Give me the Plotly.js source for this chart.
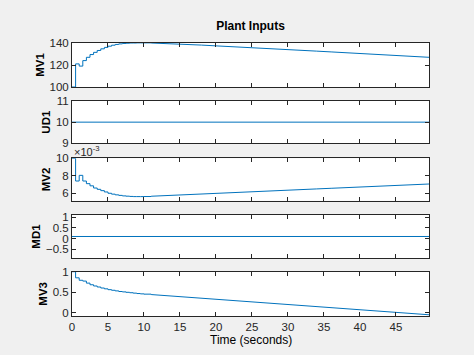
<!DOCTYPE html>
<html>
<head>
<meta charset="utf-8">
<script src="https://cdn.plot.ly/plotly-3.0.1.min.js"></script>
<style>html,body{margin:0;padding:0;background:#f0f0f0;}#chart{width:474px;height:355px;}</style>
</head>
<body>
<div id="chart"></div>
<script>
// time samples (seconds): stepped start, then smooth tail
const timeEarly = [0,0.5,1,1.5,2,2.5,3,3.5,4,4.5,5,5.5,6,6.5,7,7.5,8,8.5,9,9.5,10,11];
const timeLate = [11,12,14,16,18,20,22,24,26,28,30,32,34,36,38,40,42,44,46,48,49.6];
const mv1Early = [100,121,119,124,127,129.5,131.5,133.2,134.7,136,137.1,138,138.7,139.2,139.6,139.8,140,140,140.1,140.1,140.1,140];
const mv1Late = [140,139.8,139.3,138.7,138.1,137.4,136.8,136.1,135.4,134.7,134.0,133.3,132.6,131.9,131.2,130.4,129.7,129.0,128.3,127.6,127];
const mv2Early = [0.01,0.0074,0.00805,0.0074,0.0071,0.00685,0.0066,0.00645,0.0063,0.00615,0.006,0.0059,0.00582,0.00576,0.0057,0.00567,0.00564,0.00562,0.00562,0.00562,0.00563,0.00566];
const mv2Late = [0.00566,0.0057,0.00577,0.00584,0.00592,0.00599,0.00606,0.00613,0.00621,0.00628,0.00635,0.00642,0.0065,0.00657,0.00664,0.00671,0.00679,0.00686,0.00693,0.007,0.00706];
const mv3Early = [1,0.85,0.79,0.77,0.72,0.68,0.65,0.625,0.6,0.58,0.56,0.545,0.53,0.515,0.505,0.495,0.485,0.475,0.465,0.457,0.45,0.44];
const mv3Late = [0.44,0.427,0.402,0.376,0.351,0.325,0.3,0.274,0.249,0.223,0.198,0.172,0.147,0.121,0.096,0.07,0.045,0.019,-0.006,-0.032,-0.055];
const constTime = [0,49.6];
const ud1 = [10,10];
const md1 = [0.1,0.1];

const xTicks = [0,5,10,15,20,25,30,35,40,45];
const mv1Ticks = [100,120,140];
const ud1Ticks = [9,10,11];
const mv2Ticks = [0.006,0.008,0.01];
const mv2TickText = ['6','8','10'];
const md1Ticks = [-0.5,0,0.5,1];
const mv3Ticks = [0,0.5,1];

const blue = '#0072BD';
const axisCol = '#262626';
const font = 'Arial, "Liberation Sans", sans-serif';

function tr(x, y, n, shape){
  return {x:x, y:y, type:'scatter', mode:'lines', line:{color:blue, width:1, shape:shape},
          xaxis: n===1?'x':'x'+n, yaxis: n===1?'y':'y'+n, hoverinfo:'skip', showlegend:false};
}
const data = [
  tr(timeEarly,mv1Early,1,'hv'), tr(timeLate,mv1Late,1,'linear'),
  tr(constTime,ud1,2,'hv'),
  tr(timeEarly,mv2Early,3,'hv'), tr(timeLate,mv2Late,3,'linear'),
  tr(constTime,md1,4,'hv'),
  tr(timeEarly,mv3Early,5,'hv'), tr(timeLate,mv3Late,5,'linear')
];

function xax(n, labels){
  return {domain:[0,1], anchor: n===1?'y':'y'+n, range:[0,49.6], tickvals:xTicks, showticklabels:labels,
    ticks:'inside', ticklen:4, tickcolor:axisCol, showline:true, linecolor:axisCol, linewidth:1, mirror:'ticks',
    showgrid:false, zeroline:false, tickfont:{family:font, size:11.5, color:axisCol}};
}
function yax(n, dom, rng, tv, tt, title){
  const a = {domain:dom, anchor: n===1?'x':'x'+n, range:rng, tickvals:tv,
    ticks:'inside', ticklen:4, tickcolor:axisCol, showline:true, linecolor:axisCol, linewidth:1, mirror:'ticks',
    showgrid:false, zeroline:false, tickfont:{family:font, size:11.5, color:axisCol},
    title:{text:'<b>'+title+'</b>', font:{family:font, size:11.5, color:'#000'}, standoff:2}};
  if (tt) a.ticktext = tt;
  return a;
}

const layout = {
  width:474, height:355,
  paper_bgcolor:'#f0f0f0', plot_bgcolor:'#ffffff',
  margin:{l:72, r:45, t:43, b:39},
  title:{text:'<b>Plant Inputs</b>', font:{family:font, size:12, color:'#000'}, xref:'paper', x:0.5, xanchor:'center', yref:'container', y:1-26/355, yanchor:'middle'},
  xaxis: xax(1,false), xaxis2: xax(2,false), xaxis3: xax(3,false), xaxis4: xax(4,false), xaxis5: xax(5,true),
  yaxis: yax(1,[0.8388,1.0],[100,140],mv1Ticks,null,'MV1'),
  yaxis2: yax(2,[0.6326,0.7875],[9,11],ud1Ticks,null,'UD1'),
  yaxis3: yax(3,[0.4223,0.5777],[0.00515,0.01],mv2Ticks,mv2TickText,'MV2'),
  yaxis4: yax(4,[0.2125,0.37],[-0.9,1.1],md1Ticks,null,'MD1'),
  yaxis5: yax(5,[0,0.1623],[-0.085,1],mv3Ticks,null,'MV3'),
  annotations:[
    {text:'Time (seconds)', xref:'paper', yref:'paper', x:0.5, y:-24/273, xanchor:'center', yanchor:'middle', showarrow:false, font:{family:font, size:12, color:'#000'}},
    {text:'×10<sup>-3</sup>', xref:'paper', yref:'paper', x:0, y:0.5777, xanchor:'left', yanchor:'bottom', showarrow:false, font:{family:font, size:11, color:axisCol}, yshift:-2}
  ]
};
Plotly.newPlot('chart', data, layout, {displayModeBar:false, staticPlot:true});
</script>
</body>
</html>
